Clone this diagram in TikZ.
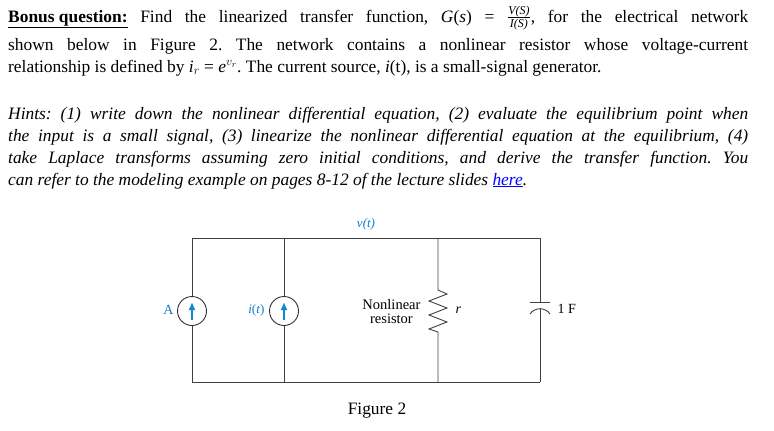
\documentclass[tikz,border=0pt]{standalone}
\usepackage{fontspec}
\setmainfont{Liberation Serif}
\usetikzlibrary{arrows.meta}
\newcommand{\smallit}[1]{\hbox{\fontsize{12}{12}\selectfont\itshape #1}}
\begin{document}
\frenchspacing
\begin{tikzpicture}[x=1pt,y=-1pt,
  wire/.style={line width=0.9pt,draw=black!75},
  src/.style={circle,draw=black!80,line width=0.9pt,minimum size=29pt,inner sep=0pt,fill=white},
  blue/.style={text=cyan!60!blue},
  txt/.style={anchor=base west,inner sep=0pt,font=\fontsize{17.4}{19}\selectfont}]
\useasboundingbox (0,0) rectangle (774,431);
% text
\node[txt] (l1) at (8,22) {\hbox to 740pt{\textbf{\underline{Bonus question:}} Find the linearized transfer function, \textit{G}(\textit{s}) = $\frac{\smallit{V(S)}}{\smallit{I(S)}}$, for the electrical network}};
\node[txt] (l2) at (8,50) {\hbox to 740pt{shown below in Figure 2. The network contains a nonlinear resistor whose voltage-current}};
\node[txt] (l3) at (8,72) {relationship is defined by \textit{i}$_r$ = \textit{e}$^{v_r}$. The current source, \textit{i}(t), is a small-signal generator.};
\node[txt,font=\fontsize{17.4}{19}\selectfont\itshape] (h1) at (8,119) {\hbox to 740pt{Hints: (1) write down the nonlinear differential equation, (2) evaluate the equilibrium point when}};
\node[txt,font=\fontsize{17.4}{19}\selectfont\itshape] (h2) at (8,141) {\hbox to 740pt{the input is a small signal, (3) linearize the nonlinear differential equation at the equilibrium, (4)}};
\node[txt,font=\fontsize{17.4}{19}\selectfont\itshape] (h3) at (8,163) {\hbox to 740pt{take Laplace transforms assuming zero initial conditions, and derive the transfer function. You}};
\node[txt,font=\fontsize{17.4}{19}\selectfont\itshape] (h4) at (8,185) {can refer to the modeling example on pages 8-12 of the lecture slides \textcolor{blue}{\underline{here}}.};
% circuit
\coordinate (a1) at (192,238); \coordinate (a2) at (192,382);
\coordinate (b1) at (284,238); \coordinate (b2) at (284,382);
\coordinate (c1) at (438,238); \coordinate (c2) at (438,382);
\coordinate (d1) at (540,238); \coordinate (d2) at (540,382);
\draw[wire] (a1) -- (d1) (a2) -- (d2);
\node[src] (sA) at (192,311) {};
\node[src] (sI) at (284,311) {};
\draw[wire] (a1) -- (sA) -- (a2);
\draw[wire] (b1) -- (sI) -- (b2);
\foreach \s in {sA,sI}{
  \draw[cyan!70!blue,line width=1.8pt,-{Latex[length=8pt,width=7pt]}] ([yshift=-9pt]\s.center) -- ([yshift=9pt]\s.center);}
\draw[wire] (c1) -- (438,290) -- (447,294) -- (429,301) -- (447,308) -- (429,315) -- (447,322) -- (429,329) -- (438,332) -- (c2);
\coordinate (cp1) at (540,302);
\draw[wire] (d1) -- (cp1); \draw[wire] (530,302) -- (550,302);
\draw[wire] (530,314) .. controls (535,307) and (545,307) .. (550,314);
\draw[wire] (540,307.8) -- (d2);
\node[blue,font=\fontsize{13}{14}\selectfont\itshape] (vt) at (366,224) {v(t)};
\node[blue,font=\fontsize{14}{14}\selectfont,anchor=east] (lA) at (177,310) {A};
\node[blue,font=\fontsize{13}{14}\selectfont,anchor=east] (lI) at (268,310) {\textit{i}(\textit{t})};
\node[font=\fontsize{14.5}{15}\selectfont,align=center,anchor=east] (nl) at (424,312) {Nonlinear\\[-1pt]resistor};
\node[font=\fontsize{14}{14}\selectfont,anchor=west] (r) at (452,310) {\textit{r}};
\node[font=\fontsize{14}{14}\selectfont,anchor=west] (F) at (554,309) {1 F};
\node[font=\fontsize{17.4}{18}\selectfont] (fig) at (377,411) {Figure 2};
\end{tikzpicture}
\end{document}
